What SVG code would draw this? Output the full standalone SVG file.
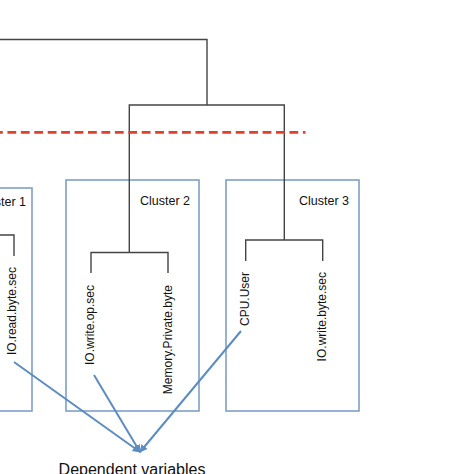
<svg xmlns="http://www.w3.org/2000/svg" width="474" height="474" viewBox="0 0 474 474">
<style>
.tree{fill:none;stroke:#444;stroke-width:1.4}
.box{fill:#fff;stroke:#7f9fc8;stroke-width:1.6}
.lbl{font-family:"Liberation Sans",Arial,sans-serif;font-size:12.5px;fill:#111}
.var{font-family:"Liberation Sans",Arial,sans-serif;font-size:12px;fill:#111}
.arr{fill:none;stroke:#5b8cc2;stroke-width:2;marker-end:url(#ah)}
</style>
<defs>
<marker id="ah" viewBox="0 0 10 10" refX="9" refY="5" markerWidth="4" markerHeight="4" orient="auto" markerUnits="strokeWidth">
<path d="M0,0 L10,5 L0,10 z" fill="#5b8cc2"/>
</marker>
</defs>
<rect width="474" height="474" fill="#fff"/>
<g id="cluster1">
<rect class="box" x="-20" y="188" width="52" height="223"/>
<text class="lbl" x="26" y="206" text-anchor="end">Cluster 1</text>
<path class="tree" d="M0,235 H14 V256"/>
<text class="var" transform="translate(16,267) rotate(-90)" text-anchor="end">IO.read.byte.sec</text>
</g>
<g id="cluster2">
<rect class="box" x="66" y="180" width="133" height="231"/>
<text class="lbl" x="190" y="205" text-anchor="end">Cluster 2</text>
<text class="var" transform="translate(94,285) rotate(-90)" text-anchor="end">IO.write.op.sec</text>
<text class="var" transform="translate(172,285) rotate(-90)" text-anchor="end">Memory.Private.byte</text>
</g>
<g id="cluster3">
<rect class="box" x="226" y="180" width="133" height="231"/>
<text class="lbl" x="349" y="205" text-anchor="end">Cluster 3</text>
<text class="var" transform="translate(249,272) rotate(-90)" text-anchor="end">CPU.User</text>
<text class="var" transform="translate(326,272) rotate(-90)" text-anchor="end">IO.write.byte.sec</text>
</g>
<g id="dendrogram">
<path class="tree" d="M0,39.5 H207 V105"/>
<path class="tree" d="M129.3,252.5 V105 H284.3 V240"/>
<path class="tree" d="M91,273 V252.5 H168 V273"/>
<path class="tree" d="M245.7,261 V240 H322.7 V261"/>
</g>
<g id="cutline">
<line x1="0" y1="132.3" x2="305.5" y2="132.3" stroke="#e0402a" stroke-width="2.8" stroke-dasharray="8.8 4.63" stroke-dashoffset="6"/>
</g>
<g id="connectors">
<line class="arr" x1="14" y1="362" x2="140" y2="452"/>
<line class="arr" x1="94" y1="375" x2="140" y2="452"/>
<line class="arr" x1="241" y1="331" x2="140" y2="452"/>
</g>
<g id="dependent">
<text x="132" y="475" text-anchor="middle" font-family="'Liberation Sans',Arial,sans-serif" font-size="16" fill="#111">Dependent variables</text>
</g>
</svg>
